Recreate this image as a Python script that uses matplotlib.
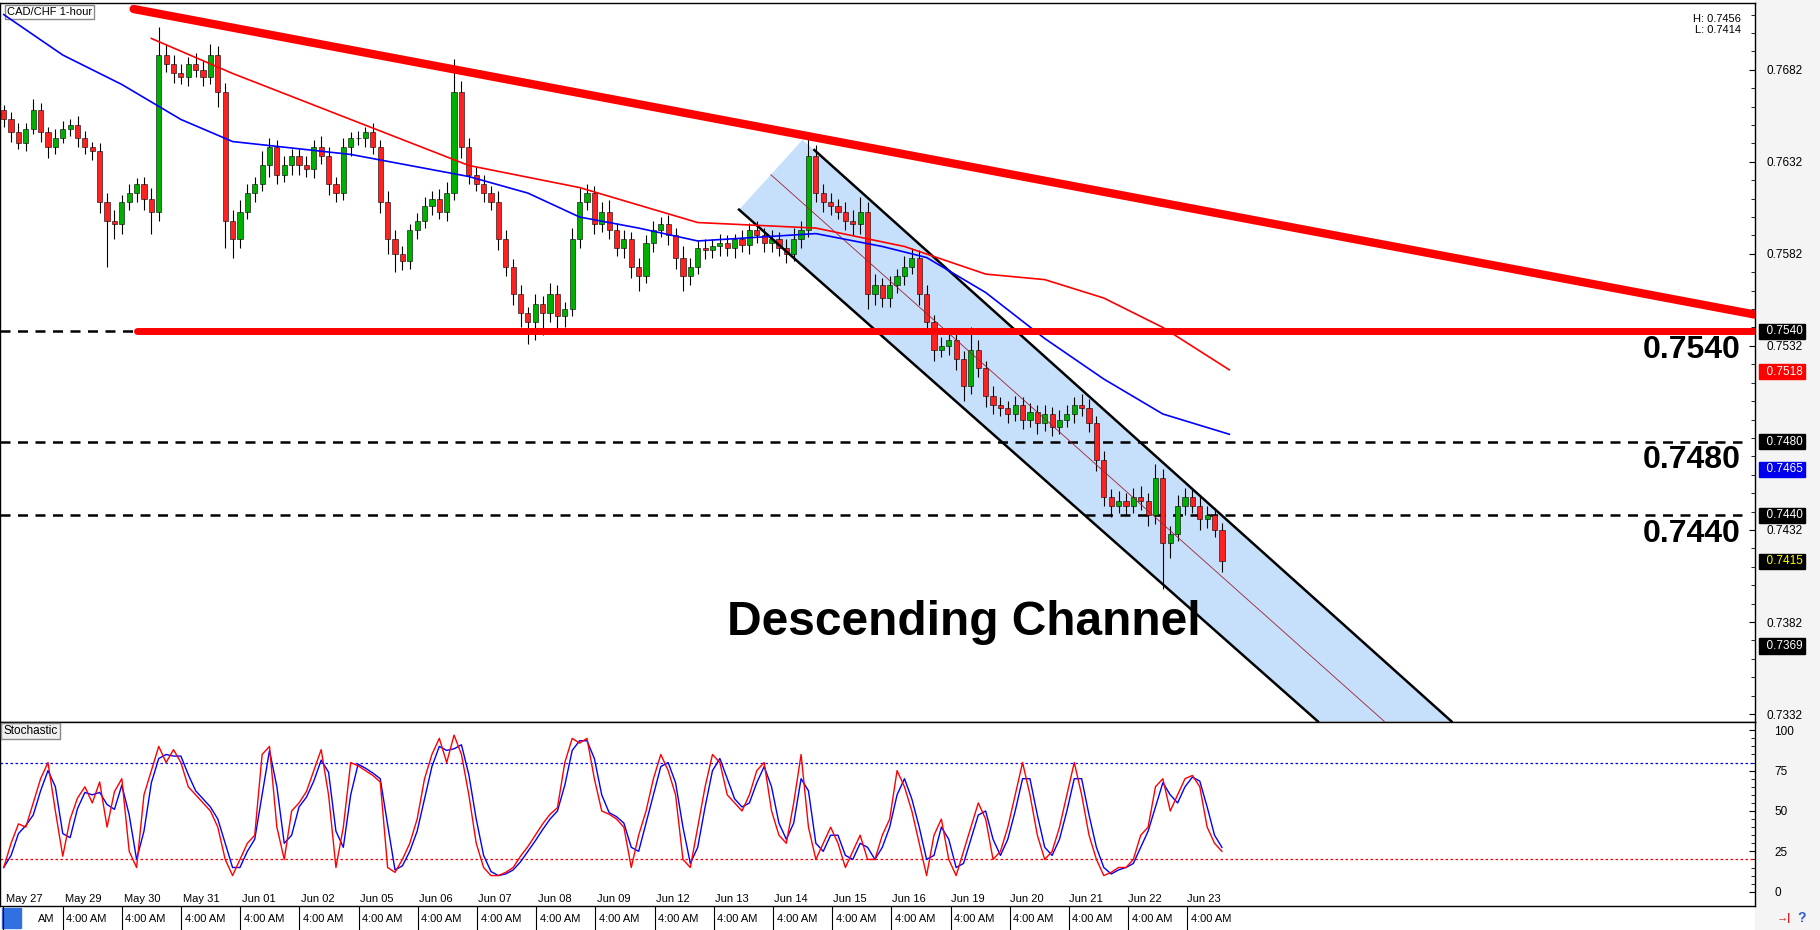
import numpy as np
import pandas as pd
import matplotlib
matplotlib.use("Agg")
import matplotlib.pyplot as plt
from matplotlib.transforms import blended_transform_factory as btf

plt.rcParams['font.family'] = ['Liberation Sans', 'DejaVu Sans']

# ---------------- data (prices in pips, 8 candles per day) ----------------
day_labels = ["May 27", "May 29", "May 30", "May 31", "Jun 01", "Jun 02", "Jun 05", "Jun 06",
              "Jun 07", "Jun 08", "Jun 09", "Jun 12", "Jun 13", "Jun 14", "Jun 15", "Jun 16",
              "Jun 19", "Jun 20", "Jun 21", "Jun 22", "Jun 23"]
first_open = 7660
closes = [
 7655,7648,7642,7650,7660,7648,7640,7645,
 7650,7652,7645,7640,7638,7610,7600,7598,
 7610,7615,7620,7612,7605,7690,7685,7680,
 7678,7685,7682,7678,7690,7670,7600,7590,
 7605,7615,7620,7630,7640,7625,7630,7635,
 7630,7628,7640,7635,7620,7615,7640,7645,
 7645,7648,7640,7610,7590,7582,7578,7595,
 7600,7608,7612,7605,7615,7670,7640,7625,
 7620,7615,7610,7590,7575,7560,7550,7545,
 7555,7550,7560,7548,7552,7590,7610,7615,
 7598,7605,7595,7585,7590,7575,7570,7588,
 7595,7598,7592,7580,7570,7575,7585,7584,
 7586,7588,7585,7590,7587,7595,7592,7588,
 7590,7585,7582,7590,7595,7635,7615,7610,
 7608,7605,7600,7598,7605,7560,7565,7558,
 7565,7570,7575,7580,7560,7545,7530,7532,
 7535,7525,7510,7530,7520,7505,7500,7498,
 7495,7500,7492,7496,7490,7495,7488,7492,
 7495,7500,7498,7490,7470,7450,7445,7448,
 7445,7450,7448,7440,7460,7425,7430,7445,
 7450,7445,7438,7440,7432,7415]
wick_up = [
 3,4,5,3,6,4,3,5,
 4,3,5,4,3,4,5,6,
 4,5,3,4,6,15,6,5,
 5,4,6,5,6,5,5,6,
 6,5,4,8,5,4,5,4,
 4,5,4,6,5,4,5,3,
 4,3,5,4,6,5,4,3,
 4,5,4,5,6,18,6,5,
 4,5,4,6,5,4,5,3,
 5,4,6,5,4,6,8,5,
 4,5,6,4,5,4,5,4,
 5,4,5,4,6,5,4,5,
 4,5,4,3,5,4,5,4,
 5,4,5,6,5,12,6,5,
 5,4,5,6,8,5,6,4,
 5,4,6,5,4,5,4,5,
 5,6,4,12,5,4,5,4,
 4,5,4,5,4,5,4,5,
 5,4,6,5,4,5,4,5,
 4,5,6,4,8,5,4,6,
 5,4,6,5,4,4]
wick_dn = [
 4,5,3,4,3,5,6,4,
 3,4,5,4,5,6,25,8,
 5,4,5,6,12,5,4,5,
 4,5,4,5,4,8,15,10,
 5,4,5,4,6,5,4,5,
 5,4,5,4,6,5,4,5,
 4,5,4,6,8,10,5,4,
 5,4,5,4,5,4,6,5,
 4,5,4,6,5,6,8,12,
 10,12,5,8,6,4,5,4,
 5,4,5,4,5,6,8,4,
 5,4,5,6,8,5,4,5,
 4,5,4,5,4,5,4,5,
 5,4,5,4,5,4,5,5,
 5,4,5,6,5,8,6,5,
 5,4,5,4,6,5,6,4,
 5,6,8,4,5,6,5,4,
 5,4,5,4,6,4,5,4,
 4,5,4,5,6,5,6,4,
 5,4,5,6,5,25,8,4,
 5,4,6,5,4,6]
stoch_k = [
 15,30,42,40,55,70,80,50,
 22,45,58,65,55,68,40,62,
 70,25,15,60,75,90,80,88,
 80,65,60,55,50,40,20,10,
 20,30,35,85,90,40,20,50,
 55,62,75,88,60,15,40,80,
 78,75,72,68,15,12,20,30,
 45,70,85,95,80,97,85,60,
 30,15,10,10,12,15,22,28,
 35,42,48,52,80,95,92,95,
 70,50,48,45,40,15,35,50,
 70,85,75,60,20,15,40,65,
 85,80,60,55,50,60,75,80,
 50,35,30,55,85,40,20,30,
 40,30,15,25,35,20,20,35,
 45,75,65,50,30,10,35,45,
 20,10,25,40,55,45,20,25,
 40,60,80,60,35,20,25,40,
 60,80,60,35,20,10,12,15,
 15,20,35,40,65,70,50,60,
 70,72,65,40,30,25]
ma200_idx = [20, 31, 47, 63, 78, 94, 110, 122, 133, 141, 149, 157, 166]
ma200_val = [7699, 7680, 7655, 7630, 7618, 7599, 7596, 7586, 7571, 7568, 7558, 7542, 7519]
ma100_idx = [0, 8, 16, 24, 31, 47, 63, 71, 78, 86, 94, 110, 119, 125, 133, 141, 149, 157, 166]
ma100_val = [7712, 7690, 7674, 7655, 7643, 7636, 7624, 7615, 7602, 7596, 7589, 7593, 7586,
             7580, 7561, 7536, 7514, 7495, 7484]
trend_idx = [17.6, 237.2]; trend_val = [7715, 7549]
support_idx = [18, 237.2]; support_val = [7540, 7540]
chan_upper_idx = [108.2, 196.1]; chan_upper_val = [7644, 7328]
chan_lower_idx = [99.6, 178.0]; chan_lower_val = [7606, 7328]
chan_mid_idx = [103.9, 187.0]; chan_mid_val = [7625, 7328]
levels = [0.7540, 0.7480, 0.7440]

P = 1e-4
c = np.array(closes) * P
o = np.concatenate([[first_open * P], c[:-1]])
h = np.maximum(o, c) + np.array(wick_up) * P
l = np.minimum(o, c) - np.array(wick_dn) * P
n = len(c)
x = np.arange(n)

W, H = 1568, 801
fig = plt.figure(figsize=(18.2, 9.3), dpi=100)
axl, axr = 0.0, 1512 / W
ax = fig.add_axes([axl, 1 - 622 / H, axr, (622 - 3) / H])
ax2 = fig.add_axes([axl, 1 - 780 / H, axr, 158 / H])
XMAX = 237.2
for a in (ax, ax2):
    a.set_xlim(-0.5, XMAX)
    a.set_xticks([])
    for s in a.spines.values():
        s.set_linewidth(1.0)
ax.set_ylim(0.73276, 0.7718)

# channel
poly_x = [chan_upper_idx[0], chan_upper_idx[1], chan_lower_idx[1], chan_lower_idx[0]]
poly_y = np.array([chan_upper_val[0], chan_upper_val[1], chan_lower_val[1], chan_lower_val[0]]) * P
ax.fill(poly_x, poly_y, color='#c6e0fb', zorder=1, lw=0)
ax.plot([109.8, chan_upper_idx[1]], [7638.4 * P, chan_upper_val[1] * P], color='black', lw=1.8, zorder=4)
ax.plot(chan_lower_idx, np.array(chan_lower_val) * P, color='black', lw=1.8, zorder=4)
ax.plot(chan_mid_idx, np.array(chan_mid_val) * P, color='#a02030', lw=0.6, zorder=4)

# dashed levels
ax.plot([-0.5, 18], [0.7540, 0.7540], color='black', ls=(0, (4, 3)), lw=1.8, zorder=2)
for lv in levels[1:]:
    ax.plot([-0.5, 235.5], [lv, lv], color='black', ls=(0, (4, 3)), lw=1.8, zorder=2)

# candles
up = c >= o
ax.vlines(x, l, h, color='black', lw=0.8, zorder=3)
ax.bar(x[up], (c - o)[up], bottom=o[up], width=0.7, color='#00b000', edgecolor='black', lw=0.4, zorder=3)
ax.bar(x[~up], (o - c)[~up], bottom=c[~up], width=0.7, color='#ff2020', edgecolor='black', lw=0.4, zorder=3)

# moving averages
ax.plot(ma200_idx, np.array(ma200_val) * P, color='#ff0000', lw=1.2, zorder=5)
ax.plot(ma100_idx, np.array(ma100_val) * P, color='#0000ff', lw=1.2, zorder=5)

# trendlines
ax.plot(trend_idx, np.array(trend_val) * P, color='#ff0000', lw=6, solid_capstyle='round', zorder=6)
ax.plot(support_idx, np.array(support_val) * P, color='#ff0000', lw=5, solid_capstyle='round', zorder=6)

# big labels
for lv in levels:
    ax.text(235.3, lv - 0.0010, f"{lv:.4f}", ha='right', va='center', fontsize=23, fontweight='bold', zorder=7)
ax.text(130, 0.7382, "Descending Channel", ha='center', va='center', fontsize=34.5, fontweight='bold', zorder=7)

# texts
ax.text(0.004, 0.995, "CAD/CHF 1-hour", transform=ax.transAxes, fontsize=8, va='top', ha='left',
        bbox=dict(facecolor='white', edgecolor='#888888', pad=1.5))
ax.text(0.992, 0.985, "H: 0.7456\nL: 0.7414", transform=ax.transAxes, fontsize=8, va='top', ha='right',
        linespacing=1.1)

# right axis
ax.yaxis.tick_right()
ticks = [0.7682, 0.7632, 0.7582, 0.7532, 0.7432, 0.7382, 0.7332]
ax.set_yticks(ticks)
ax.set_yticklabels([f"{t:.4f}" for t in ticks], fontsize=8.5)
ax.set_yticks(np.arange(0.7332, 0.772, 0.001), minor=True)
ax.tick_params(axis='y', which='both', direction='in', pad=8, length=4)
ax.tick_params(axis='y', which='minor', length=3)
tr = btf(ax.transAxes, ax.transData)
boxes = [(0.7540, 'black', 'white'), (0.7518, '#ff0000', 'white'), (0.7480, 'black', 'white'),
         (0.7465, '#0000ee', 'white'), (0.7440, 'black', 'white'), (0.7415, 'black', '#ffff00'),
         (0.7369, 'black', 'white')]
for v, bg, fg in boxes:
    ax.text(1.003, v, f"  {v:.4f}", transform=tr, fontsize=8.5, color=fg, va='center', ha='left',
            bbox=dict(facecolor=bg, edgecolor=bg, pad=1.2), clip_on=False, zorder=10)

# stochastic
k = pd.Series(stoch_k, dtype=float)
d = k.rolling(2, min_periods=1).mean()
ax2.set_ylim(-8.6, 105)
ax2.axhline(80, color='#0000ff', ls=(0, (2, 2)), lw=0.9)
ax2.axhline(20, color='#ff0000', ls=(0, (2, 2)), lw=0.9)
ax2.plot(x, d.values, color='#0000ff', lw=1.0)
ax2.plot(x, k.values, color='#ff0000', lw=1.0)
ax2.yaxis.tick_right()
ax2.set_yticks([0, 25, 50, 75, 100])
ax2.set_yticklabels(["0", "25", "50", "75", "100"], fontsize=8.5)
ax2.set_yticks(np.arange(0, 101, 5), minor=True)
ax2.tick_params(axis='y', which='both', direction='in', pad=14, length=4)
ax2.tick_params(axis='y', which='minor', length=3)
ax2.text(0.002, 0.985, "Stochastic", transform=ax2.transAxes, fontsize=8.5, va='top', ha='left',
         bbox=dict(facecolor='#f0f0f0', edgecolor='#888888', pad=1.5))

for i, lab in enumerate(day_labels):
    ax2.text(0.3 + 8 * i, -4.5, lab, fontsize=8, ha='left', va='center')

axb = fig.add_axes([0, 0, 1, 1 - 780 / H], facecolor='none')
axb.set_xlim(0, W); axb.set_ylim(0, 1)
axb.axis('off')
for i in range(21):
    xs = 51 * i + 3
    axb.plot([xs, xs], [0.05, 0.95], color='black', lw=0.8)
    if i == 0:
        axb.text(33, 0.45, "AM", fontsize=8, va='center', ha='left')
    else:
        axb.text(xs + 3, 0.45, "4:00 AM", fontsize=8, va='center', ha='left')
axb.add_patch(plt.Rectangle((2, 0.1), 16, 0.8, color='#3070e0'))
axb.text(1552, 0.5, "?", color='#3060d0', fontsize=10, fontweight='bold', va='center', ha='center')
axb.text(1537, 0.5, "→|", color='#e02020', fontsize=8, fontweight='bold', va='center', ha='center')

fig.patches.append(plt.Rectangle((1512 / W, 0), 1 - 1512 / W, 1, transform=fig.transFigure,
                                 color='#f4f4f4', zorder=-1))
fig.savefig("out.png", dpi=100)
